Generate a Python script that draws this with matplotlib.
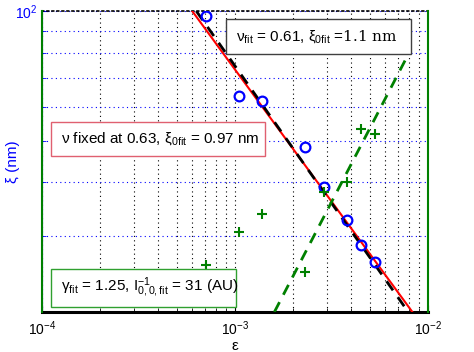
import matplotlib
matplotlib.use("Agg")
import matplotlib.pyplot as plt
import matplotlib.ticker as ticker
from matplotlib.patches import Rectangle

plt.rcParams['font.family'] = ['Liberation Sans', 'DejaVu Sans']
plt.rcParams['mathtext.fontset'] = 'custom'
plt.rcParams['mathtext.rm'] = 'Liberation Sans'
plt.rcParams['mathtext.it'] = 'Liberation Sans:italic'
plt.rcParams['mathtext.tt'] = 'DejaVu Serif'

# measured points
eps = [7.08e-4, 1.05e-3, 1.38e-3, 2.31e-3, 2.89e-3, 3.80e-3, 4.50e-3, 5.31e-3]
xi = [97.4, 63.4, 61.8, 48.3, 39.0, 32.7, 28.6, 26.1]
inv_I = [0.0143, 0.0184, 0.0212, 0.0136, 0.0250, 0.0270, 0.0406, 0.0390]

# fit lines (end points)
fit_eps = [6.0e-4, 8.3e-3]
fit_xi = [100, 20]
fixed_eps = [6.3e-4, 7.9e-3]
fixed_xi = [100, 20]
fitI_eps = [1.6e-3, 8.1e-3]
fitI_val = [0.01, 0.074]

blue = (0, 0, 1)
green = (0, 0.5, 0)

fig = plt.figure(figsize=(4.74, 3.52), dpi=100)
ax1 = fig.add_axes([42/474, 40/352, 386/474, 301/352])
ax2 = ax1.twinx()

ax1.plot(fit_eps, fit_xi, color='red', lw=1.5, zorder=3)
ax1.plot(fixed_eps, fixed_xi, color='black', lw=2, ls=(0, (4, 3)), zorder=4)
ax1.plot(eps, xi, 'o', mfc='none', mec=blue, mew=1.6, ms=7, zorder=5)

ax2.plot(fitI_eps, fitI_val, color=green, lw=2, ls=(0, (4, 3)))
ax2.plot(eps, inv_I, '+', color=green, mew=1.5, ms=7)

ax1.set_xscale('log')
ax1.set_yscale('log')
ax2.set_yscale('log')
ax1.set_xlim(1e-4, 1e-2)
ax1.set_ylim(20, 100)
ax2.set_ylim(0.01, 0.1)

ax1.xaxis.set_major_locator(ticker.LogLocator(base=10))
ax1.xaxis.set_minor_locator(ticker.LogLocator(base=10, subs=range(2, 10)))
ax1.xaxis.set_minor_formatter(ticker.NullFormatter())
ax1.yaxis.set_major_locator(ticker.LogLocator(base=10))
ax1.yaxis.set_minor_locator(ticker.LogLocator(base=10, subs=range(2, 10)))
ax1.yaxis.set_minor_formatter(ticker.NullFormatter())

ax1.tick_params(axis='both', which='both', direction='in', labelsize=10)
ax1.tick_params(axis='both', which='major', length=5)
ax1.tick_params(axis='both', which='minor', length=3)
ax1.tick_params(axis='y', which='both', colors=blue)
ax1.tick_params(axis='x', which='both', pad=5)
ax2.tick_params(axis='y', which='both', right=False, labelright=False)

ax1.grid(True, axis='x', which='both', color='black', ls=(0, (1, 3)), lw=0.8)
ax1.grid(True, axis='y', which='both', color=blue, ls=(0, (1, 3)), lw=0.8)

ax1.spines['left'].set_color(blue)
ax1.spines['bottom'].set_linewidth(2.2)
ax1.spines['top'].set_linestyle((0, (1, 2)))
ax1.spines['top'].set_linewidth(1.2)
ax1.spines['right'].set_visible(False)
ax2.spines['right'].set_color(green)
ax2.spines['right'].set_linewidth(1.5)
ax2.spines['left'].set_color(green)
ax2.spines['left'].set_linewidth(1.5)
ax2.spines['top'].set_visible(False)
ax2.spines['bottom'].set_visible(False)

ax1.set_xlabel('ε', fontsize=11)
ax1.xaxis.set_label_coords(0.5, -0.09)
ax1.set_ylabel('ξ (nm)', fontsize=11, color=blue)
ax1.yaxis.set_label_coords(-0.057, 0.5)


def box(x0, y0, x1, y1, ec, text):
    # pixel box -> axes fraction
    ax2.add_patch(Rectangle(((x0 - 42) / 386, (312 - y1) / 301),
                            (x1 - x0) / 386, (y1 - y0) / 301,
                            transform=ax2.transAxes, fc='white', ec=ec,
                            lw=1.0, zorder=10, clip_on=False))
    ax2.text((x0 - 42 + 10) / 386, (312 - (y0 + y1) / 2) / 301, text,
             transform=ax2.transAxes, ha='left', va='center',
             fontsize=11, zorder=11)


box(226, 19, 411, 54, '#404040',
    'ν$_{\\rm fit}$ = 0.61, ξ$_{\\rm 0fit}$ =$\\mathtt{1.1\\ nm}$')
box(51, 122, 265, 156, '#e06070',
    'ν fixed at 0.63, ξ$_{\\rm 0fit}$ = 0.97 nm')
box(51, 269, 236, 307, '#30a030',
    'γ$_{\\rm fit}$ = 1.25, I$^{-1}_{\\rm 0,0,fit}$ = 31 (AU)')

fig.savefig('out.png', dpi=100)
